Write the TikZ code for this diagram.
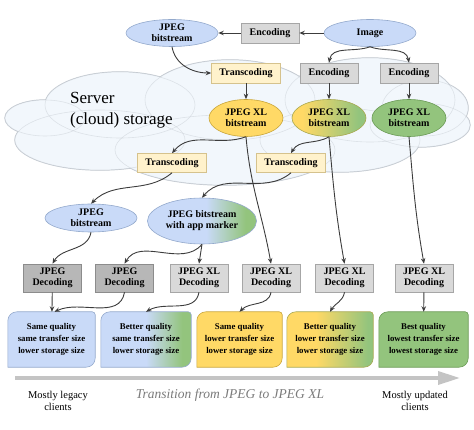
\documentclass[tikz,border=0pt]{standalone}
\usepackage{fontspec}
\setmainfont{Liberation Serif}
\usetikzlibrary{shapes.geometric,arrows.meta}
\definecolor{jblue}{HTML}{C9DAF8}
\definecolor{jbluel}{HTML}{93A9CC}
\definecolor{jyellow}{HTML}{FFD966}
\definecolor{jyellowl}{HTML}{C9A63A}
\definecolor{jgreen}{HTML}{93C47D}
\definecolor{jgreenl}{HTML}{6A9A55}
\definecolor{ygl}{HTML}{A8A850}
\definecolor{grayf}{HTML}{D9D9D9}
\definecolor{grayl}{HTML}{A6A6A6}
\definecolor{dgrayf}{HTML}{B7B7B7}
\definecolor{dgrayl}{HTML}{8C8C8C}
\definecolor{tcf}{HTML}{FFF2CC}
\definecolor{tcl}{HTML}{D5C28D}
\definecolor{arrc}{HTML}{3C3C3C}
\definecolor{cloudf}{HTML}{F2F7FC}
\definecolor{cloudl}{HTML}{C2C8CF}
\definecolor{bigarr}{HTML}{C4C4C4}
\definecolor{transc}{HTML}{7A7A7A}
\pgfdeclarehorizontalshading{bgell}{100bp}{color(0bp)=(jblue); color(52bp)=(jblue); color(70bp)=(jgreen); color(100bp)=(jgreen)}
\pgfdeclarehorizontalshading{bgbox}{100bp}{color(0bp)=(jblue); color(50bp)=(jblue); color(70bp)=(jgreen); color(100bp)=(jgreen)}
\pgfdeclarehorizontalshading{ygell}{100bp}{color(0bp)=(jyellow); color(32bp)=(jyellow); color(70bp)=(jgreen); color(100bp)=(jgreen)}
\pgfdeclarehorizontalshading{ygbox}{100bp}{color(0bp)=(jyellow); color(42bp)=(jyellow); color(72bp)=(jgreen); color(100bp)=(jgreen)}
\begin{document}
\begin{tikzpicture}[x=1pt,y=-1pt,
  arr/.style={draw=arrc, line width=0.9pt, -{Stealth[length=5.5pt,width=4.5pt]}},
  txt/.style={font=\bfseries\fontsize{10}{11}\selectfont, align=center, inner sep=0pt},
  rtxt/.style={font=\bfseries\fontsize{8.8}{12}\selectfont, align=center, inner sep=0pt},
  ell/.style={ellipse, line width=0.6pt, inner sep=0pt, minimum width=74pt, minimum height=37pt},
  bell/.style={ell, draw=jbluel, fill=jblue, minimum width=92pt, minimum height=27pt},
  gbox/.style={rectangle, draw=grayl, fill=grayf, line width=0.6pt, inner sep=0pt, minimum width=58pt, minimum height=20pt, txt},
  tbox/.style={gbox, draw=tcl, fill=tcf, minimum width=69pt},
  dbox/.style={gbox, minimum height=28pt},
  ddbox/.style={dbox, draw=dgrayl, fill=dgrayf},
  rshape/.style={rectangle, inner sep=0pt, minimum height=55pt},
  cloudedge/.style={draw=cloudl, line width=1.4pt},
  cloudpart/.style={fill=cloudf},
  cloudinner/.style={draw=cloudl, draw opacity=0.45, line width=0.6pt},
  note/.style={font=\fontsize{10.5}{12.5}\selectfont, align=center, inner sep=0pt}
]
\useasboundingbox (0,0) rectangle (474,430);
% cloud
\foreach \cx/\cy/\rx/\ry in {45/118/40/18, 120/105/75/33, 230/100/85/40, 370/100/85/42, 425/108/43/28, 420/125/50/22, 340/140/80/32, 225/150/110/35, 100/140/85/30}
  \path[cloudedge] (\cx,\cy) ellipse[x radius=\rx, y radius=\ry];
\foreach \cx/\cy/\rx/\ry in {45/118/40/18, 120/105/75/33, 230/100/85/40, 370/100/85/42, 425/108/43/28, 420/125/50/22, 340/140/80/32, 225/150/110/35, 100/140/85/30}
  \path[cloudpart] (\cx,\cy) ellipse[x radius=\rx, y radius=\ry];
\foreach \cx/\cy/\rx/\ry in {45/118/40/18, 120/105/75/33, 230/100/85/40, 370/100/85/42, 425/108/43/28, 420/125/50/22, 340/140/80/32, 225/150/110/35, 100/140/85/30}
  \path[cloudinner] (\cx,\cy) ellipse[x radius=\rx, y radius=\ry];
\node[font=\fontsize{17}{21}\selectfont, align=left, anchor=west, inner sep=0pt] (srv) at (70,110) {Server\\(cloud) storage};

% top row
\node[bell] (jb0) at (172,33) {};
\node[txt] (jb0t) at (jb0) {JPEG\\bitstream};
\node[gbox] (enc0) at (270,33) {Encoding};
\node[bell] (img) at (370,33) {};
\node[txt] (imgt) at (img) {Image};

\node[tbox] (tc0) at (246,73) {Transcoding};
\node[gbox] (enc1) at (329,73) {Encoding};
\node[gbox] (enc2) at (409,73) {Encoding};

\node[ell, draw=jyellowl, fill=jyellow] (jxl1) at (246,118) {};
\node[txt] (jxl1t) at (jxl1) {JPEG XL\\bitstream};
\node[ell, draw=ygl, shade, shading=ygell] (jxl2) at (329,118) {};
\node[txt] (jxl2t) at (jxl2) {JPEG XL\\bitstream};
\node[ell, draw=jgreenl, fill=jgreen] (jxl3) at (409,118) {};
\node[txt] (jxl3t) at (jxl3) {JPEG XL\\bitstream};

\node[tbox, minimum height=19pt] (tc1) at (172,163) {Transcoding};
\node[tbox, minimum height=19pt] (tc2) at (291,163) {Transcoding};

\node[bell, minimum height=28pt] (jb1) at (91,218) {};
\node[txt] (jb1t) at (jb1) {JPEG\\bitstream};
\node[ell, draw=jbluel, shade, shading=bgell, minimum width=109pt, minimum height=46pt] (jbm) at (202,221) {};
\node[txt] (jbmt) at (jbm) {JPEG bitstream\\with app marker};

% decoding
\node[ddbox] (jd1) at (52.5,278) {JPEG\\Decoding};
\node[ddbox] (jd2) at (124.5,278) {JPEG\\Decoding};
\node[dbox] (jxld1) at (199,278) {JPEG XL\\Decoding};
\node[dbox] (jxld2) at (271,278) {JPEG XL\\Decoding};
\node[dbox] (jxld3) at (344.5,278) {JPEG XL\\Decoding};
\node[dbox] (jxld4) at (424,278) {JPEG XL\\Decoding};

% results
\node[rshape, minimum width=87pt] (r1) at (51.5,339.5) {};
\node[rshape, minimum width=90pt] (r2) at (146,339.5) {};
\node[rshape, minimum width=85pt] (r3) at (239.5,339.5) {};
\node[rshape, minimum width=86pt] (r4) at (330,339.5) {};
\node[rshape, minimum width=89pt] (r5) at (423.5,339.5) {};
\path[draw=jbluel, fill=jblue, line width=0.6pt] (r1.south west) -- ([yshift=-9pt]r1.north west) arc[start angle=180,end angle=90,radius=9pt] -- ([xshift=-3pt]r1.north east) arc[start angle=90,end angle=0,radius=3pt] -- ([yshift=9pt]r1.south east) arc[start angle=0,end angle=-90,radius=9pt] -- cycle;
\path[draw=jbluel, shade, shading=bgbox, line width=0.6pt] (r2.south west) -- ([yshift=-9pt]r2.north west) arc[start angle=180,end angle=90,radius=9pt] -- ([xshift=-3pt]r2.north east) arc[start angle=90,end angle=0,radius=3pt] -- ([yshift=9pt]r2.south east) arc[start angle=0,end angle=-90,radius=9pt] -- cycle;
\path[draw=jyellowl, fill=jyellow, line width=0.6pt] (r3.south west) -- ([yshift=-9pt]r3.north west) arc[start angle=180,end angle=90,radius=9pt] -- ([xshift=-3pt]r3.north east) arc[start angle=90,end angle=0,radius=3pt] -- ([yshift=9pt]r3.south east) arc[start angle=0,end angle=-90,radius=9pt] -- cycle;
\path[draw=ygl, shade, shading=ygbox, line width=0.6pt] (r4.south west) -- ([yshift=-9pt]r4.north west) arc[start angle=180,end angle=90,radius=9pt] -- ([xshift=-3pt]r4.north east) arc[start angle=90,end angle=0,radius=3pt] -- ([yshift=9pt]r4.south east) arc[start angle=0,end angle=-90,radius=9pt] -- cycle;
\path[draw=jgreenl, fill=jgreen, line width=0.6pt] (r5.south west) -- ([yshift=-9pt]r5.north west) arc[start angle=180,end angle=90,radius=9pt] -- ([xshift=-3pt]r5.north east) arc[start angle=90,end angle=0,radius=3pt] -- ([yshift=9pt]r5.south east) arc[start angle=0,end angle=-90,radius=9pt] -- cycle;
\node[rtxt] (r1t) at (r1) {Same quality\\same transfer size\\lower storage size};
\node[rtxt] (r2t) at (r2) {Better quality\\same transfer size\\lower storage size};
\node[rtxt] (r3t) at (r3) {Same quality\\lower transfer size\\lower storage size};
\node[rtxt] (r4t) at (r4) {Better quality\\lower transfer size\\lower storage size};
\node[rtxt] (r5t) at (r5) {Best quality\\lowest transfer size\\lowest storage size};

% arrows
\draw[arr] (img) -- (enc0);
\draw[arr] (enc0) -- (jb0);
\draw[arr] (img.south) to[out=200, in=80] (enc1.north);
\draw[arr] (img.south) to[out=-20, in=100] (enc2.north);
\draw[arr] (jb0.south) to[out=-80, in=180] (tc0.west);
\draw[arr] (tc0) -- (jxl1);
\draw[arr] (enc1) -- (jxl2);
\draw[arr] (enc2) -- (jxl3);
\draw[arr] (jxl1.south) to[out=200, in=50] (tc1.north);
\draw[arr] (jxl2.south) to[out=210, in=60] (tc2.north);
\draw[arr] (jxl1.south) to[out=-85, in=100] (jxld2.north);
\draw[arr] (jxl2.south) to[out=-85, in=100] (jxld3.north);
\draw[arr] (jxl3.south) to[out=-85, in=100] (jxld4.north);
\draw[arr] (tc1.south) to[out=220, in=45] (jb1.north);
\draw[arr] (tc2.south) to[out=220, in=50] (jbm.north);
\draw[arr] (jb1.south) to[out=-100, in=60] (jd1.north);
\draw[arr] (jbm.south) to[out=230, in=60] (jd2.north);
\draw[arr] (jbm.south) -- (jxld1.north);
\draw[arr] (jd1) -- (r1);
\draw[arr] (jd2.south) to[out=-100, in=25] ([xshift=3pt]r1.north);
\draw[arr] (jxld1.south) to[out=-100, in=30] (r2.north);
\draw[arr] (jxld2.south) to[out=-100, in=45] (r3.north);
\draw[arr] (jxld3.south) to[out=-100, in=60] (r4.north);
\draw[arr] (jxld4) -- (r5);

% transition arrow
\coordinate (ta) at (15,378);
\coordinate (tb) at (460,378);
\draw[draw=bigarr, line width=3.5pt, -{Triangle[length=22pt,width=13pt]}] (ta) -- (tb);
\node[note] (leg) at (58,401) {Mostly legacy\\clients};
\node[font=\itshape\fontsize{13.5}{16}\selectfont, text=transc, inner sep=0pt] (trans) at (230,395) {Transition from JPEG to JPEG XL};
\node[note] (upd) at (415,401) {Mostly updated\\clients};
\end{tikzpicture}
\end{document}
